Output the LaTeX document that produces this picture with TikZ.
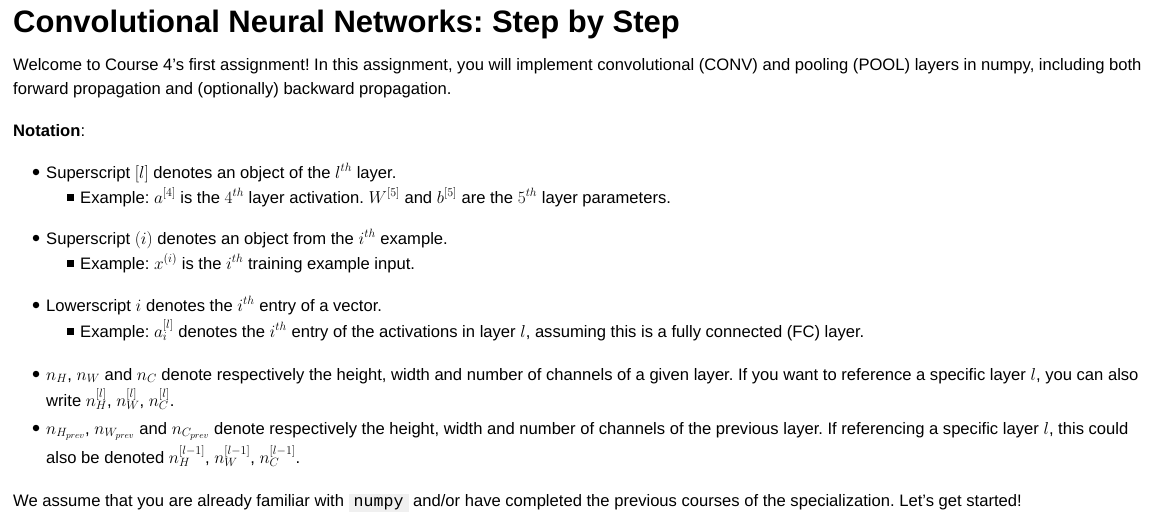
\documentclass[tikz,border=0pt]{standalone}
\usepackage{fontspec}
\setmainfont{Liberation Sans}
\setmonofont{Liberation Mono}
\newcommand{\mm}[1]{{\fontsize{18.5}{22}\selectfont$#1$}}
\newcommand{\ap}{\symbol{39}}
\frenchspacing
\begin{document}
\begin{tikzpicture}[x=1pt,y=1pt,
  txt/.style={anchor=base west,inner sep=0pt,font=\fontsize{16.6}{19}\selectfont\frenchspacing},
  dot/.style={circle,fill=black,minimum size=6.5pt,inner sep=0pt},
  sq/.style={rectangle,fill=black,minimum size=7pt,inner sep=0pt}]
\useasboundingbox (0,0) rectangle (1175,-515);
\node[txt,font=\fontsize{31}{34}\selectfont\bfseries] (title) at (13,-32) {Convolutional Neural Networks: Step by Step};
\node[txt] (w1) at (13,-70) {Welcome to Course 4\ap s first assignment! In this assignment, you will implement convolutional (CONV) and pooling (POOL) layers in numpy, including both};
\node[txt] (w2) at (13,-94) {forward propagation and (optionally) backward propagation.};
\node[txt] (nt) at (13,-136) {\textbf{Notation}:};
\node[dot] (d1) at (36,-172) {};
\node[txt] (b1) at (46,-178) {Superscript \mm{[l]} denotes an object of the \mm{l^{th}} layer.};
\node[sq] (s1) at (70,-197) {};
\node[txt] (e1) at (80,-203) {Example: \mm{a^{[4]}} is the \mm{4^{th}} layer activation. \mm{W^{[5]}} and \mm{b^{[5]}} are the \mm{5^{th}} layer parameters.};
\node[dot] (d2) at (36,-238) {};
\node[txt] (b2) at (46,-244) {Superscript \mm{(i)} denotes an object from the \mm{i^{th}} example.};
\node[sq] (s2) at (70,-263) {};
\node[txt] (e2) at (80,-269) {Example: \mm{x^{(i)}} is the \mm{i^{th}} training example input.};
\node[dot] (d3) at (36,-305) {};
\node[txt] (b3) at (46,-311) {Lowerscript \mm{i} denotes the \mm{i^{th}} entry of a vector.};
\node[sq] (s3) at (70,-331) {};
\node[txt] (e3) at (80,-337) {Example: \mm{a^{[l]}_i} denotes the \mm{i^{th}} entry of the activations in layer \mm{l}, assuming this is a fully connected (FC) layer.};
\node[dot] (d4) at (36,-374) {};
\node[txt] (b4) at (46,-380) {\mm{n_H}, \mm{n_W} and \mm{n_C} denote respectively the height, width and number of channels of a given layer. If you want to reference a specific layer \mm{l}, you can also};
\node[txt] (b4b) at (46,-406) {write \mm{n_H^{[l]}}, \mm{n_W^{[l]}}, \mm{n_C^{[l]}}.};
\node[dot] (d5) at (36,-428) {};
\node[txt] (b5) at (46,-434) {\mm{n_{H_{prev}}}, \mm{n_{W_{prev}}} and \mm{n_{C_{prev}}} denote respectively the height, width and number of channels of the previous layer. If referencing a specific layer \mm{l}, this could};
\node[txt] (b5b) at (46,-463) {also be denoted \mm{n_H^{[l-1]}}, \mm{n_W^{[l-1]}}, \mm{n_C^{[l-1]}}.};
\node[txt] (f1) at (13,-506) {We assume that you are already familiar with \tikz[baseline=(c.base)]\node[fill=black!6,inner xsep=5pt,inner ysep=3pt] (c) {\ttfamily numpy}; and/or have completed the previous courses of the specialization. Let\ap s get started!};
\end{tikzpicture}
\end{document}
